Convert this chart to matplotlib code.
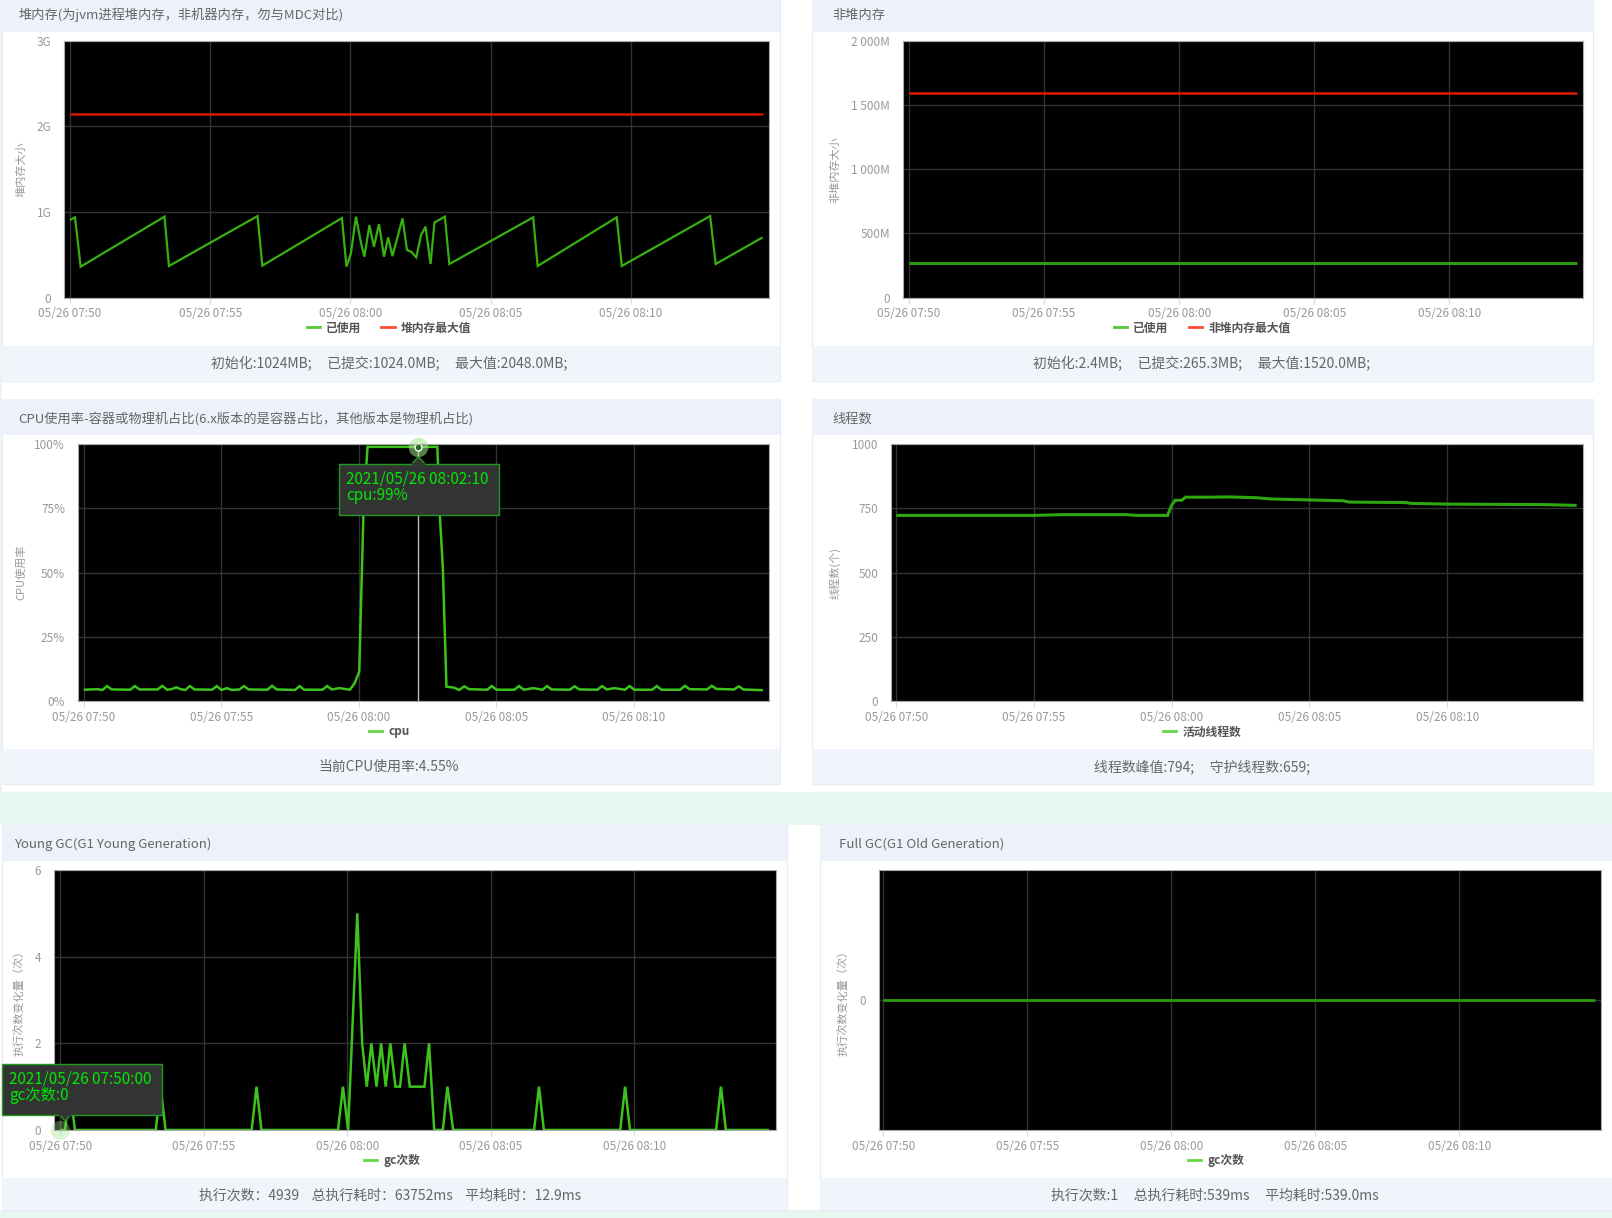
import matplotlib
matplotlib.use('Agg')
import matplotlib.pyplot as plt
from matplotlib.patches import Rectangle, Polygon

plt.rcParams['font.family'] = ['Noto Sans CJK SC', 'DejaVu Sans']

W, H = 1612, 1218

# times are minutes after 07:50
x_ticks = [0, 5, 10, 15, 20]
x_tick_labels = ['05/26 07:50', '05/26 07:55', '05/26 08:00', '05/26 08:05', '05/26 08:10']
flat_times = [0, 24.7]

heap_times = [0, 0.18, 0.38, 3.37, 3.53, 6.69, 6.86, 9.70, 9.86, 10.02, 10.2, 10.37, 10.5, 10.68,
              10.84, 11.02, 11.2, 11.35, 11.5, 11.86, 12.02, 12.17, 12.35, 12.52, 12.68, 12.86,
              13.0, 13.37, 13.53, 16.52, 16.68, 19.5, 19.68, 22.83, 23.03, 24.7]
heap_used = [0.907, 0.938, 0.362, 0.946, 0.37, 0.953, 0.374, 0.93, 0.362, 0.518, 0.946, 0.654, 0.479,
             0.848, 0.595, 0.86, 0.479, 0.704, 0.486, 0.926, 0.556, 0.537, 0.471, 0.73, 0.829, 0.393,
             0.879, 0.946, 0.393, 0.938, 0.37, 0.938, 0.37, 0.953, 0.393, 0.704]
heap_max = [2.144, 2.144]

nonheap_used = [270, 270]
nonheap_max = [1593, 1593]

cpu_times = [0, 0.5, 0.68, 0.85, 1.02, 1.69, 1.86, 2.03, 2.69, 2.86, 3.03, 3.19, 3.36, 3.53, 3.69,
             3.86, 4.03, 4.67, 4.84, 5.01, 5.21, 5.38, 5.66, 5.83, 6.0, 6.68, 6.85, 7.02, 7.68, 7.85,
             8.02, 8.68, 8.85, 9.02, 9.3, 9.68, 9.85, 10.02, 10.17, 10.32, 12.86, 12.95, 13.06, 13.19,
             13.47, 13.65, 13.84, 14.01, 14.67, 14.84, 15.01, 15.66, 15.83, 16.0, 16.35, 16.68, 16.85,
             17.02, 17.68, 17.85, 18.02, 18.68, 18.85, 19.02, 19.3, 19.68, 19.85, 20.02, 20.67, 20.84,
             21.01, 21.69, 21.86, 22.03, 22.67, 22.84, 23.01, 23.65, 23.82, 23.99, 24.7]
cpu_used = [4.4, 4.6, 4.3, 5.8, 4.5, 4.4, 5.8, 4.5, 4.5, 5.9, 4.4, 4.6, 5.3, 4.6, 4.3,
            5.8, 4.5, 4.4, 5.8, 4.3, 5.0, 4.3, 4.5, 5.8, 4.5, 4.4, 5.9, 4.5, 4.3, 5.8,
            4.4, 4.4, 5.8, 4.5, 5.0, 4.4, 6.9, 11.4, 72.5, 99, 99, 72.5, 51.7, 5.6,
            5.2, 4.3, 5.7, 4.6, 4.4, 5.8, 4.4, 4.4, 5.8, 4.4, 5.0, 4.4, 5.8,
            4.5, 4.4, 5.7, 4.5, 4.4, 5.8, 4.5, 5.0, 4.4, 5.8, 4.4, 4.4, 5.8,
            4.4, 4.4, 5.9, 4.6, 4.5, 5.9, 4.7, 4.5, 5.7, 4.5, 4.2]

thread_times = [0, 4.96, 6.09, 8.35, 8.72, 9.85, 10, 10.13, 10.36, 10.5, 11.35, 12.1, 13.05, 13.6,
                16.24, 16.43, 18.5, 18.68, 20, 21.88, 23.57, 24.7]
thread_count = [723, 723, 726, 726, 723, 723, 764, 782, 782, 794, 794, 795, 792, 787,
                780, 775, 773, 770, 767, 766, 765, 762]

young_times = [0, 0.17, 0.34, 0.51, 3.33, 3.5, 3.67, 6.67, 6.84, 7.01, 9.68, 9.85, 10.03, 10.35, 10.52,
               10.68, 10.84, 11.02, 11.18, 11.34, 11.5, 11.68, 11.84, 12.0, 12.18, 12.69, 12.85, 13.03,
               13.33, 13.49, 13.69, 16.51, 16.68, 16.85, 19.51, 19.68, 19.85, 22.85, 23.02, 23.19, 24.7]
young_gc = [0, 0, 1, 0, 0, 1, 0, 0, 1, 0, 0, 1, 0, 5, 2,
            1, 2, 1, 2, 1, 2, 1, 1, 2, 1, 1, 2, 0,
            0, 1, 0, 0, 1, 0, 0, 1, 0, 0, 1, 0, 0]
full_gc = [0, 0]

# full-width punctuation of the original labels
COMMA = '\uff0c'
COLON = '\uff1a'
GC_YLABEL = '执行次数变化量\uff08次\uff09'

fig = plt.figure(figsize=(W / 100, H / 100), dpi=100, facecolor='white')

GREEN = '#38b010'
GRID = '#333333'
TICK_GRAY = '#999999'
TEXT_GRAY = '#666666'


def px_axes(left, top, right, bottom, **kw):
    return fig.add_axes([left / W, 1 - bottom / H, (right - left) / W, (bottom - top) / H], **kw)


# page layer, in pixel coordinates
page = px_axes(0, 0, W, H, zorder=0)
page.set_xlim(0, W)
page.set_ylim(H, 0)
page.axis('off')
page.add_patch(Rectangle((0, 0), 2, 792, color='#e9f6f2', lw=0))
page.add_patch(Rectangle((0, 792), W, 33, color='#e8f6f1', lw=0))
page.add_patch(Rectangle((0, 1210), W, 8, color='#e8f6f1', lw=0))


def draw_card(left, right, head_top, head_bottom, foot_top, foot_bottom, title, title_x, title_y, footer,
              footer_x, footer_y):
    page.add_patch(Rectangle((left, head_top), right - left, foot_bottom - head_top,
                             fc='white', ec='#e6ecf5', lw=0.8))
    page.add_patch(Rectangle((left, head_top), right - left, head_bottom - head_top, color='#edf2fa', lw=0))
    page.add_patch(Rectangle((left, foot_top), right - left, foot_bottom - foot_top, color='#f0f5fc', lw=0))
    page.text(title_x, title_y, title, color=TEXT_GRAY, fontsize=9.5, va='center')
    page.text(footer_x, footer_y, footer, color=TEXT_GRAY, fontsize=10, va='center', ha='center')


def draw_chart(box, xlim, ylim, y_ticks, y_labels, ylabel, label_x, series, legend_x, legend_y):
    left, top, right, bottom = box
    ax = px_axes(left, top, right, bottom, zorder=2, facecolor='black')
    ax.set_xlim(*xlim)
    ax.set_ylim(*ylim)
    ax.grid(color=GRID, lw=1)
    ax.set_axisbelow(True)
    for spine in ax.spines.values():
        spine.set_color('#aaaaaa')
        spine.set_linewidth(0.8)
    ax.set_xticks(x_ticks)
    ax.set_xticklabels(x_tick_labels, color=TICK_GRAY, fontsize=8.5)
    ax.set_yticks(y_ticks)
    ax.set_yticklabels(y_labels, color=TICK_GRAY, fontsize=8.5)
    ax.tick_params(axis='x', length=4, width=0.8, color='#d0dcf2', pad=3)
    ax.tick_params(axis='y', length=0, pad=9)
    ax.set_ylabel(ylabel, color=TICK_GRAY, fontsize=8)
    ax.yaxis.set_label_coords((label_x + 7 - left) / (right - left), 0.5)
    handles = []
    for times, values, color, legend_color, lw, name in series:
        ax.plot(times, values, color=color, lw=lw, solid_joinstyle='miter', solid_capstyle='butt')
        handles.append(plt.Line2D([], [], color=legend_color, lw=2, label=name))
    fig.legend(handles=handles, loc='center', bbox_to_anchor=(legend_x / W, 1 - legend_y / H), ncol=2,
               frameon=False, handlelength=1.15, handletextpad=0.5, columnspacing=1.7,
               labelcolor='#555555', prop={'weight': 'bold', 'size': 8.5})
    return ax


def draw_tooltip(left, top, right, bottom, lines, tip):
    top_layer.add_patch(Polygon(tip, fc='#333333', ec='#1f9a1f', lw=1))
    top_layer.add_patch(Rectangle((left, top), right - left, bottom - top, fc='#333333', ec='#1f9a1f', lw=1))
    # cover the base of the pointer so that it joins the box
    base_y = bottom if tip[1][1] > bottom else top
    top_layer.plot([tip[0][0] + 1, tip[2][0] - 1], [base_y, base_y], color='#333333', lw=1.5)
    for i, line in enumerate(lines):
        top_layer.text(left + 7, top + 16 + i * 16.3, line, color='#00e800', fontsize=11, va='center')


draw_card(2, 780, 0, 32, 346, 381, '堆内存(为jvm进程堆内存' + COMMA + '非机器内存' + COMMA + '勿与MDC对比)', 19, 15,
          '初始化:1024MB;     已提交:1024.0MB;     最大值:2048.0MB;', 389, 363)
draw_card(812, 1593, 0, 32, 346, 381, '非堆内存', 832, 15,
          '初始化:2.4MB;     已提交:265.3MB;     最大值:1520.0MB;', 1202, 363)
draw_card(2, 780, 399, 435, 749, 784,
          'CPU使用率-容器或物理机占比(6.x版本的是容器占比' + COMMA + '其他版本是物理机占比)', 18, 419,
          '当前CPU使用率:4.55%', 389, 767)
draw_card(812, 1593, 399, 435, 749, 784, '线程数', 832, 419,
          '线程数峰值:794;     守护线程数:659;', 1202, 767)
draw_card(2, 787, 825, 861, 1178, 1210, 'Young GC(G1 Young Generation)', 14, 844,
          '执行次数' + COLON + '4939    总执行耗时' + COLON + '63752ms    平均耗时' + COLON + '12.9ms', 390.5, 1196)
draw_card(820, 1612, 825, 861, 1178, 1210, 'Full GC(G1 Old Generation)', 839, 844,
          '执行次数:1     总执行耗时:539ms     平均耗时:539.0ms', 1215, 1196)

draw_chart((63.8, 40.7, 769, 297.7), (-0.22, 24.93), (0, 3), [0, 1, 2, 3], ['0', '1G', '2G', '3G'],
           '堆内存大小', 20,
           [(heap_times, heap_used, GREEN, '#55c832', 1.6, '已使用'),
            (flat_times, heap_max, '#d01a00', '#ff4a36', 1.8, '堆内存最大值')], 389, 328)
draw_chart((902.5, 40.7, 1583, 297.7), (-0.233, 24.94), (0, 2000), [0, 500, 1000, 1500, 2000],
           ['0', '500M', '1 000M', '1 500M', '2 000M'], '非堆内存大小', 833.7,
           [(flat_times, nonheap_used, '#2e9a10', '#55c832', 2.2, '已使用'),
            (flat_times, nonheap_max, '#e01a00', '#ff4a36', 1.8, '非堆内存最大值')], 1202, 328)
cpu_ax = draw_chart((77.6, 444.3, 769, 701), (-0.222, 24.92), (0, 100), [0, 25, 50, 75, 100],
                    ['0%', '25%', '50%', '75%', '100%'], 'CPU使用率', 19.4,
                    [(cpu_times, cpu_used, '#3cc41c', '#66d648', 1.8, 'cpu')], 389, 732)
draw_chart((890.6, 444.3, 1583, 701), (-0.207, 24.93), (0, 1000), [0, 250, 500, 750, 1000],
           ['0', '250', '500', '750', '1000'], '线程数(个)', 833.7,
           [(thread_times, thread_count, '#2ea80e', '#66d648', 2.2, '活动线程数')], 1202, 732)
young_ax = draw_chart((53.6, 870, 775.5, 1130), (-0.23, 24.92), (0, 6), [0, 2, 4, 6], ['0', '2', '4', '6'],
                      GC_YLABEL, 18,
                      [(young_times, young_gc, '#3cc41c', '#66d648', 1.8, 'gc次数')], 392, 1160.7)
draw_chart((878.7, 870, 1600.6, 1130), (-0.163, 24.9), (-1, 1), [0], ['0'],
           GC_YLABEL, 841.4,
           [(flat_times, full_gc, '#2e9a10', '#66d648', 2.0, 'gc次数')], 1216, 1160.7)

# crosshair and hover markers
cpu_ax.axvline(12.17, color='#bbbbbb', lw=1)
cpu_ax.plot([12.17], [99], 'o', ms=14, color='#9be88a', alpha=0.55, mew=0, clip_on=False)
cpu_ax.plot([12.17], [99], 'o', ms=5, mfc='#2a6a20', mec='white', mew=1, clip_on=False)
young_ax.plot([0], [0], 'o', ms=14, color='#9be88a', alpha=0.35, mew=0, clip_on=False)

top_layer = px_axes(0, 0, W, H, zorder=5)
top_layer.set_xlim(0, W)
top_layer.set_ylim(H, 0)
top_layer.axis('off')

draw_tooltip(339, 463.5, 498.5, 514.5, ['2021/05/26 08:02:10', 'cpu:99%'],
             [(412, 463.5), (418.5, 457), (425, 463.5)])
draw_tooltip(2, 1063.5, 162, 1114.5, ['2021/05/26 07:50:00', 'gc次数:0'],
             [(59, 1114.5), (65, 1121), (71, 1114.5)])

fig.savefig('out.png', dpi=100)
